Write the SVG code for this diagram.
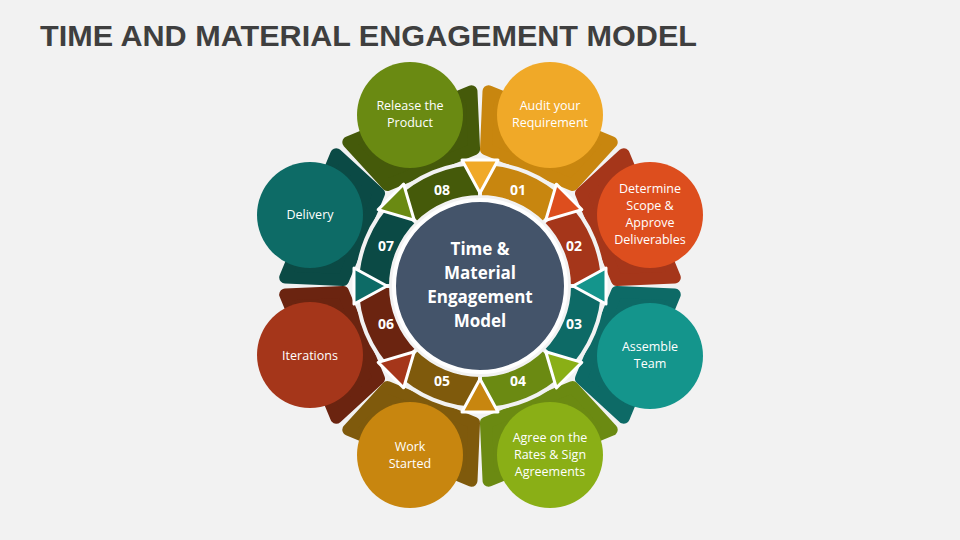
<svg xmlns="http://www.w3.org/2000/svg" width="960" height="540" viewBox="0 0 960 540">
<defs>
<style>
.t{font-family:"Open Sans","Liberation Sans",sans-serif;fill:#fff;font-size:12.5px;text-anchor:middle}
.n{font-family:"Open Sans","Liberation Sans",sans-serif;fill:#fff;font-size:14px;font-weight:bold;text-anchor:middle}
.g{stroke:#F2F2F2;stroke-width:4;stroke-linejoin:round}
.tri{stroke:#fff;stroke-width:3;stroke-linejoin:round}
</style>
<path id="outerShape" d="M488.5,91.2 L611.7,142.2 L572.6,185 L486,149.1 Z" stroke-width="12" stroke-linejoin="round"/>
<path id="ringSeg" d="M480,163 A123,123 0 0 1 567,199 L542.9,223.1 A89,89 0 0 0 480,197 Z"/>
<path id="triShape" d="M462,160 L498,160 L480,193 Z"/>
</defs>
<rect width="960" height="540" fill="#F2F2F2"/>
<text x="40" y="46" font-family="Liberation Sans,Arial,sans-serif" font-weight="bold" font-size="30" fill="#3F3F3F" textLength="657" lengthAdjust="spacingAndGlyphs">TIME AND MATERIAL ENGAGEMENT MODEL</text>
<g id="connectors"></g>
<g id="outers">
<use href="#outerShape" fill="#C8860F" stroke="#C8860F"/>
<use href="#outerShape" fill="#A5361A" stroke="#A5361A" transform="rotate(45 480 286)"/>
<use href="#outerShape" fill="#0D6A66" stroke="#0D6A66" transform="rotate(90 480 286)"/>
<use href="#outerShape" fill="#6B8A12" stroke="#6B8A12" transform="rotate(135 480 286)"/>
<use href="#outerShape" fill="#7F5A0C" stroke="#7F5A0C" transform="rotate(180 480 286)"/>
<use href="#outerShape" fill="#6B2410" stroke="#6B2410" transform="rotate(225 480 286)"/>
<use href="#outerShape" fill="#0B4A45" stroke="#0B4A45" transform="rotate(270 480 286)"/>
<use href="#outerShape" fill="#455A0A" stroke="#455A0A" transform="rotate(315 480 286)"/>
</g>
<g id="ringGroup">
<use href="#ringSeg" class="g" fill="#C8860F"/>
<use href="#ringSeg" class="g" fill="#A5361A" transform="rotate(45 480 286)"/>
<use href="#ringSeg" class="g" fill="#0D6A66" transform="rotate(90 480 286)"/>
<use href="#ringSeg" class="g" fill="#6B8A12" transform="rotate(135 480 286)"/>
<use href="#ringSeg" class="g" fill="#7F5A0C" transform="rotate(180 480 286)"/>
<use href="#ringSeg" class="g" fill="#6B2410" transform="rotate(225 480 286)"/>
<use href="#ringSeg" class="g" fill="#0B4A45" transform="rotate(270 480 286)"/>
<use href="#ringSeg" class="g" fill="#455A0A" transform="rotate(315 480 286)"/>
<use href="#triShape" class="tri" fill="#F0A928"/>
<use href="#triShape" class="tri" fill="#DD4E1E" transform="rotate(45 480 286)"/>
<use href="#triShape" class="tri" fill="#14958C" transform="rotate(90 480 286)"/>
<use href="#triShape" class="tri" fill="#8AAF16" transform="rotate(135 480 286)"/>
<use href="#triShape" class="tri" fill="#C8860F" transform="rotate(180 480 286)"/>
<use href="#triShape" class="tri" fill="#A5361A" transform="rotate(225 480 286)"/>
<use href="#triShape" class="tri" fill="#0D6B66" transform="rotate(270 480 286)"/>
<use href="#triShape" class="tri" fill="#6A8A12" transform="rotate(315 480 286)"/>
<text class="n" x="518" y="195">01</text>
<text class="n" x="574" y="251">02</text>
<text class="n" x="574" y="329">03</text>
<text class="n" x="518" y="386">04</text>
<text class="n" x="442" y="386">05</text>
<text class="n" x="386" y="329">06</text>
<text class="n" x="386" y="251">07</text>
<text class="n" x="442" y="195">08</text>
</g>
<g id="center">
<circle cx="480" cy="286" r="86" fill="#44546A" stroke="#fff" stroke-width="4"/>
<g font-family="Open Sans,Liberation Sans,sans-serif" font-weight="bold" font-size="17" fill="#fff" text-anchor="middle">
<text x="480" y="255">Time &amp;</text><text x="480" y="279">Material</text><text x="480" y="303">Engagement</text><text x="480" y="327">Model</text>
</g>
</g>
<g id="n01"><circle cx="550" cy="115" r="53" fill="#F0A928"/><text class="t" x="550" y="110">Audit your</text><text class="t" x="550" y="127">Requirement</text></g>
<g id="n02"><circle cx="650" cy="215" r="53" fill="#DD4E1E"/><text class="t" x="650" y="193">Determine</text><text class="t" x="650" y="210">Scope &amp;</text><text class="t" x="650" y="227">Approve</text><text class="t" x="650" y="244">Deliverables</text></g>
<g id="n03"><circle cx="650" cy="356" r="53" fill="#14958C"/><text class="t" x="650" y="351">Assemble</text><text class="t" x="650" y="368">Team</text></g>
<g id="n04"><circle cx="550" cy="455" r="53" fill="#8AAF16"/><text class="t" x="550" y="442">Agree on the</text><text class="t" x="550" y="459">Rates &amp; Sign</text><text class="t" x="550" y="476">Agreements</text></g>
<g id="n05"><circle cx="410" cy="455" r="53" fill="#C8860F"/><text class="t" x="410" y="451">Work</text><text class="t" x="410" y="468">Started</text></g>
<g id="n06"><circle cx="310" cy="355" r="53" fill="#A5361A"/><text class="t" x="310" y="360">Iterations</text></g>
<g id="n07"><circle cx="310" cy="215" r="53" fill="#0D6B66"/><text class="t" x="310" y="219">Delivery</text></g>
<g id="n08"><circle cx="410" cy="115" r="53" fill="#6A8A12"/><text class="t" x="410" y="110">Release the</text><text class="t" x="410" y="127">Product</text></g>
</svg>
